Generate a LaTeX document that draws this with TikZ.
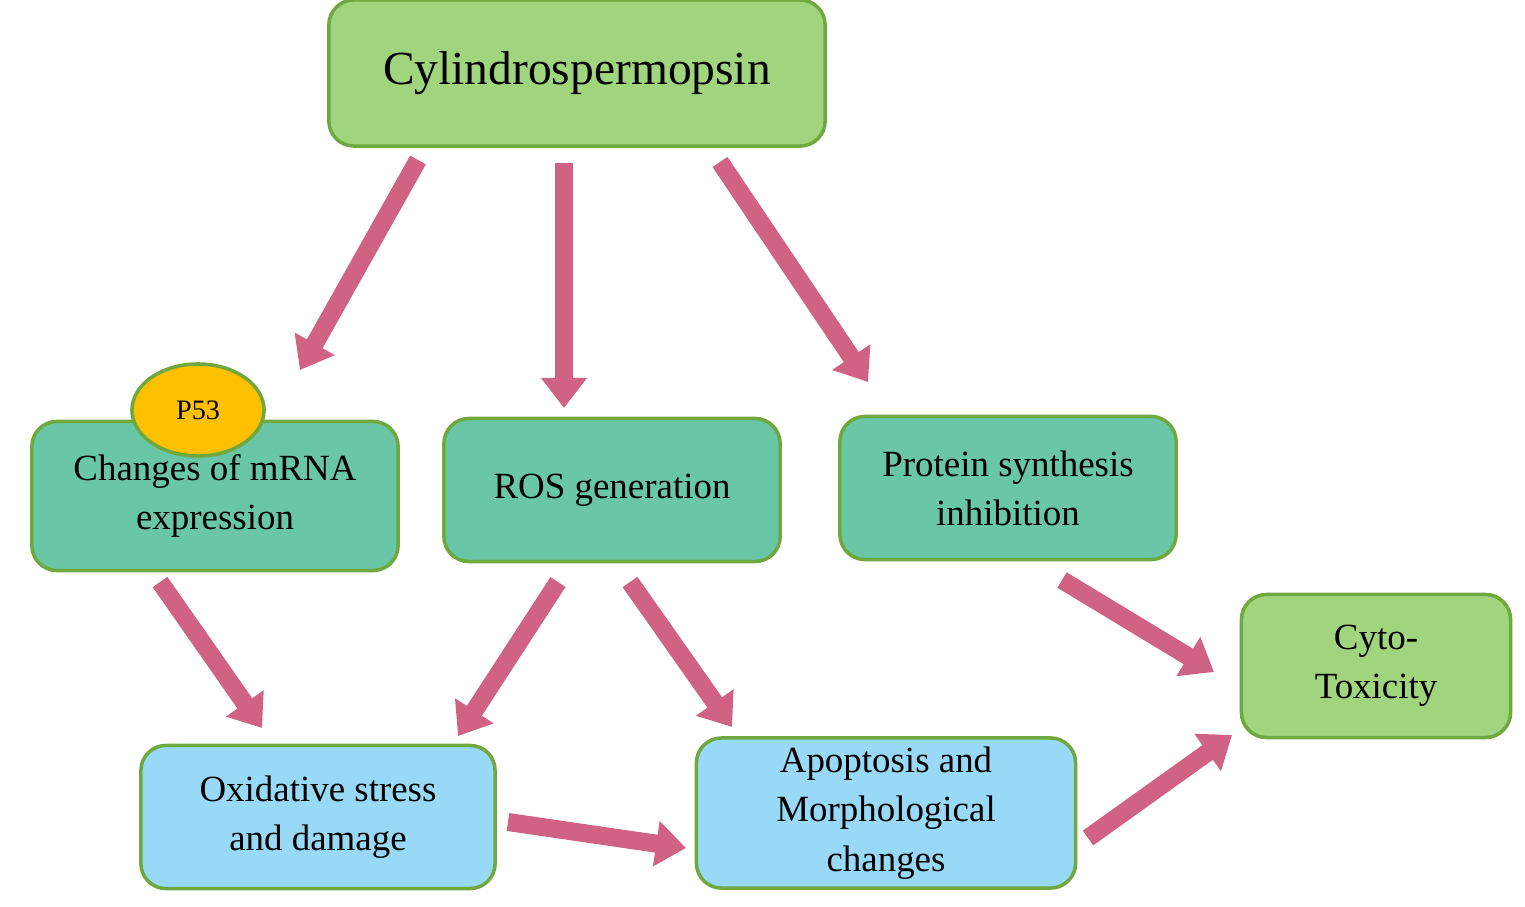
\documentclass[tikz,border=0pt]{standalone}
\usepackage{fontspec}
\setmainfont{Liberation Serif}
\usetikzlibrary{arrows.meta,shapes.geometric}
\definecolor{lgreen}{HTML}{A0D57E}
\definecolor{bgreen}{HTML}{6FA83F}
\definecolor{teal1}{HTML}{69C6A6}
\definecolor{lblue}{HTML}{97D9F7}
\definecolor{pink1}{HTML}{D06283}
\definecolor{gold1}{HTML}{FFC000}
\begin{document}
\begin{tikzpicture}[x=0.01cm,y=-0.01cm,
 box/.style={draw=bgreen,line width=1pt,rounded corners=0.25cm,align=center,font=\fontsize{10.5pt}{14pt}\selectfont,inner sep=0pt},
 arr/.style={draw=pink1,line width=0.18cm,-{Triangle[width=0.44cm,length=0.3cm]}}]
\useasboundingbox (0,0) rectangle (1525,906);
\node[box,fill=lgreen,minimum width=4.96cm,minimum height=1.46cm,font=\fontsize{13.5pt}{16pt}\selectfont] (cyl) at (577,73) {Cylindrospermopsin};
\node[box,fill=teal1,minimum width=3.66cm,minimum height=1.49cm] (mrna) at (215,496) {Changes of mRNA\\expression};
\node[box,fill=teal1,minimum width=3.36cm,minimum height=1.43cm] (ros) at (612,490) {ROS generation};
\node[box,fill=teal1,minimum width=3.36cm,minimum height=1.43cm] (prot) at (1008,488) {Protein synthesis\\inhibition};
\node[box,fill=lgreen,minimum width=2.69cm,minimum height=1.43cm] (cyto) at (1376,666) {Cyto-\\Toxicity};
\node[box,fill=lblue,minimum width=3.54cm,minimum height=1.43cm] (ox) at (318,817) {Oxidative stress\\and damage};
\node[box,fill=lblue,minimum width=3.79cm,minimum height=1.5cm] (apo) at (886,813) {Apoptosis and\\Morphological\\changes};
\node[ellipse,draw=bgreen,line width=1pt,fill=gold1,minimum width=1.32cm,minimum height=0.92cm,inner sep=0pt,font=\fontsize{8pt}{9pt}\selectfont] (p53) at (198,410) {P53};
\coordinate (a1) at (418,160); \coordinate (b1) at (300,370);
\coordinate (a2) at (564,163); \coordinate (b2) at (564,408);
\coordinate (a3) at (720,162); \coordinate (b3) at (868,382);
\coordinate (a4) at (160,582); \coordinate (b4) at (262,728);
\coordinate (a5) at (558,582); \coordinate (b5) at (458,736);
\coordinate (a6) at (630,582); \coordinate (b6) at (732,727);
\coordinate (a7) at (1062,580); \coordinate (b7) at (1214,672);
\coordinate (a8) at (508,822); \coordinate (b8) at (686,848);
\coordinate (a9) at (1088,838); \coordinate (b9) at (1232,735);
\foreach \i in {1,...,9} \draw[arr] (a\i) -- (b\i);
\end{tikzpicture}
\end{document}
